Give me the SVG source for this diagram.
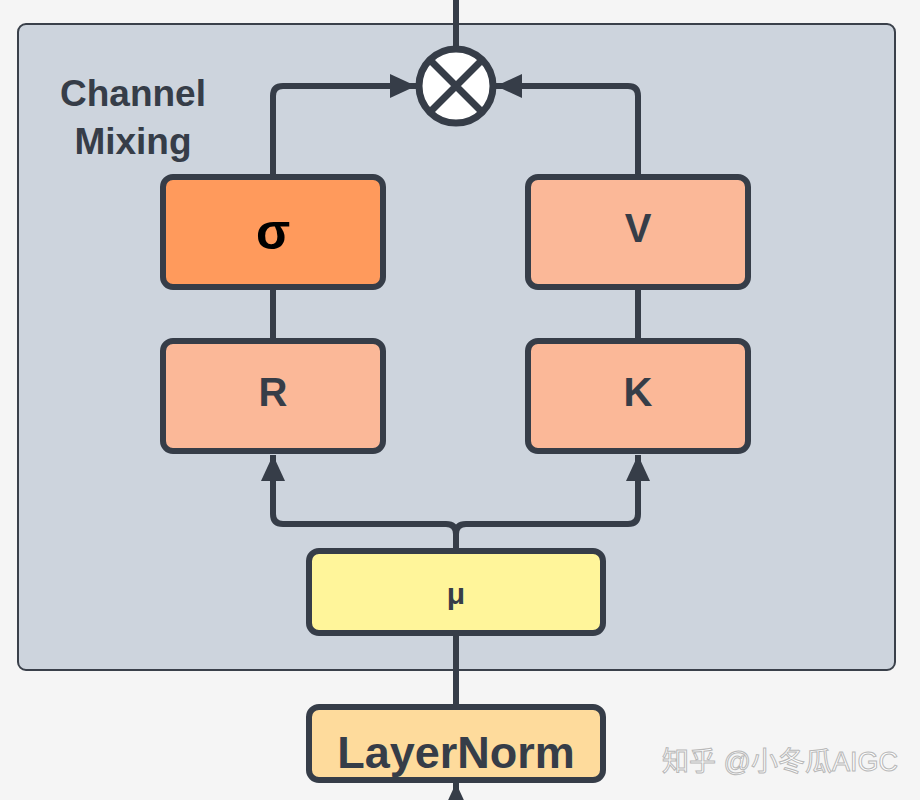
<svg xmlns="http://www.w3.org/2000/svg" width="920" height="800" viewBox="0 0 920 800">
<defs>
<style>
.n{stroke:#363d48;stroke-width:6}
.c{fill:none;stroke:#363d48;stroke-width:6;stroke-linejoin:round}
.t{font-family:"Liberation Sans",Arial,sans-serif;font-weight:bold;fill:#363d48;text-anchor:middle}
</style>
<marker id="a" markerUnits="userSpaceOnUse" markerWidth="30" markerHeight="30" viewBox="0 0 30 30" refX="28" refY="15" orient="auto"><path d="M2,3 L28,15 L2,27 Z" fill="#363d48"/></marker>
</defs>
<rect width="920" height="800" fill="#f5f5f5"/>
<g id="container"><rect x="18" y="24" width="877" height="646" rx="8" fill="#cdd4dd" stroke="#3a404a" stroke-width="2"/>
<text class="t" x="133" y="106" font-size="37">Channel</text><text class="t" x="133" y="154" font-size="37">Mixing</text></g>
<g id="connectors">
<path class="c" d="M456,0 V49"/>
<path class="c" d="M273,177 V96 Q273,86 283,86 H416" marker-end="url(#a)"/>
<path class="c" d="M638,177 V96 Q638,86 628,86 H496" marker-end="url(#a)"/>
<path class="c" d="M273,287 V341"/>
<path class="c" d="M638,287 V341"/>
<path class="c" d="M456,551 V534 Q456,524 446,524 H283 Q273,524 273,514 V455" marker-end="url(#a)"/>
<path class="c" d="M456,534 Q456,524 466,524 H628 Q638,524 638,514 V455" marker-end="url(#a)"/>
<path class="c" d="M456,633 V707"/>
<path class="c" d="M456,800 V783" marker-end="url(#a)"/>
</g>
<g id="mul"><circle cx="456" cy="86" r="37" fill="#fff" stroke="#363d48" stroke-width="7"/>
<path d="M430,60 L482,112 M482,60 L430,112" stroke="#363d48" stroke-width="7"/></g>
<g id="sigma"><rect class="n" x="163" y="177" width="220" height="110" rx="10" fill="#ff9a5c"/><text class="t" x="273" y="249" font-size="50" fill="#000" style="fill:#000">σ</text></g>
<g id="V"><rect class="n" x="528" y="177" width="220" height="110" rx="10" fill="#fbb898"/><text class="t" x="638" y="242" font-size="40">V</text></g>
<g id="R"><rect class="n" x="163" y="341" width="220" height="110" rx="10" fill="#fbb898"/><text class="t" x="273" y="406" font-size="40">R</text></g>
<g id="K"><rect class="n" x="528" y="341" width="220" height="110" rx="10" fill="#fbb898"/><text class="t" x="638" y="406" font-size="40">K</text></g>
<g id="mu"><rect class="n" x="309" y="551" width="294" height="82" rx="10" fill="#fff59a"/><text class="t" x="456" y="604" font-size="30">μ</text></g>
<g id="layernorm"><rect class="n" x="309" y="707" width="294" height="73" rx="10" fill="#fedb9c"/><text class="t" x="456" y="768" font-size="45">LayerNorm</text></g>
<text x="780" y="771" font-size="27" text-anchor="middle" fill="#fff" stroke="#b8b8b8" stroke-width="1" font-family="'Liberation Sans','Noto Sans CJK SC',sans-serif">知乎 @小冬瓜AIGC</text>
</svg>
